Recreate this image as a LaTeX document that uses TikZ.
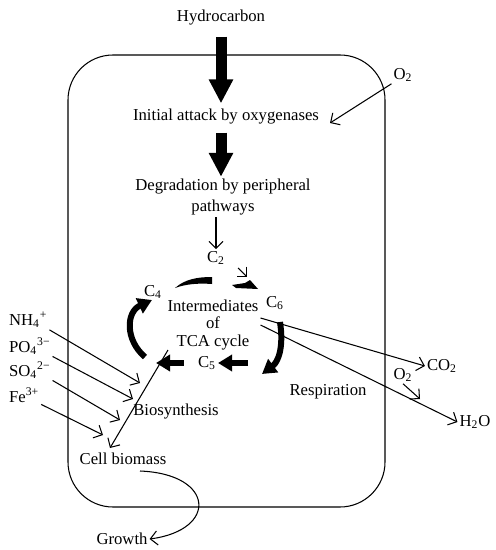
\documentclass[tikz,border=0pt]{standalone}
\usepackage{fontspec}
\setmainfont{Liberation Serif}
\usetikzlibrary{arrows.meta,positioning}

\tikzset{
  lbl/.style={inner sep=1pt, font=\fontsize{9.5}{12}\selectfont},
  fat/.style={line width=0.22cm, -{Triangle[width=0.46cm,length=0.48cm]}},
  cyc/.style={line width=0.12cm, -{Triangle[width=0.32cm,length=0.28cm]}},
  thin/.style={line width=0.6pt, -{Straight Barb[length=4pt,width=8pt]}},
}

\begin{document}
\begin{tikzpicture}[x=0.02cm, y=-0.02cm]
\useasboundingbox (0,0) rectangle (495,550);
% cell
\draw[line width=0.6pt, rounded corners=0.9cm] (68,55) rectangle (385,507);

% main pathway
\node[lbl] (hc) at (221,18) {Hydrocarbon};
\node[lbl] (ia) at (226,117) {Initial attack by oxygenases};
\node[lbl, align=center] (dg) at (223,197) {Degradation by peripheral\\pathways};
\node[lbl] (otwo) at (403,75) {O\textsubscript{2}};
\coordinate (iatip) at (330,123);
\draw[fat, shorten <=0.18cm, shorten >=0.08cm] (hc.south) -- (hc.south |- ia.north);
\draw[fat, shorten <=0.12cm] (hc.south |- ia.south) -- (hc.south |- dg.north);
\draw[thin] (otwo.south west) -- (iatip);

% TCA cycle
\node[lbl] (c2) at (216,258) {C\textsubscript{2}};
\node[lbl] (c4) at (153,292) {C\textsubscript{4}};
\node[lbl] (c6) at (275,303) {C\textsubscript{6}};
\node[lbl] (c5) at (207,363) {C\textsubscript{5}};
\node[lbl, align=center, font=\fontsize{9.5}{10}\selectfont] (inter) at (213,325) {Intermediates\\of\\TCA cycle};
\draw[thin] (c2.north |- dg.south) -- (c2.north);
\fill (175,288) .. controls (185,279) and (198,277) .. (212,277) -- (212,284) .. controls (198,283) and (186,284) .. (175,288) -- cycle;
\fill (232,285) -- (245,283) -- (250,280) -- (258,289) -- (236,288) -- cycle;
\draw[thin] (238,268) -- (247,277);
\draw[cyc] (280,322) .. controls (284,348) and (278,362) .. (262,374);
\draw[cyc] (248,363) -- (c5.east);
\draw[cyc] (c5.west) ++(-12,0) -- (156,363);
\draw[cyc] (145,357) .. controls (125,340) and (126,312) .. (152,300);

% respiration
\node[lbl] (co2) at (442,366) {CO\textsubscript{2}};
\node[lbl] (h2o) at (475,422) {H\textsubscript{2}O};
\node[lbl] (o2b) at (403,375) {O\textsubscript{2}};
\node[lbl] (resp) at (328,392) {Respiration};
\coordinate (o2tip) at (420,399);
\draw[thin] ([yshift=0.14cm]inter.east) -- (co2.west);
\draw[thin] (inter.east) -- (h2o.west);
\draw[thin] (o2b.south) -- (o2tip);

% biosynthesis
\node[lbl, anchor=west] (nh) at (7,320) {NH\textsubscript{4}\textsuperscript{+}};
\node[lbl, anchor=west] (po) at (7,346) {PO\textsubscript{4}\textsuperscript{3−}};
\node[lbl, anchor=west] (so) at (7,370) {SO\textsubscript{4}\textsuperscript{2−}};
\node[lbl, anchor=west] (fe) at (7,395) {Fe\textsuperscript{3+}};
\node[lbl] (bio) at (176,412) {Biosynthesis};
\node[lbl] (cb) at (123,459) {Cell biomass};
\node[lbl] (gr) at (122,539) {Growth};
\coordinate (b1) at (140,383);
\coordinate (b2) at (133,399);
\coordinate (b3) at (120,420);
\coordinate (b4) at (103,435);
\coordinate (c5out) at (168,350);
\coordinate (cbtip) at (110,448);
\coordinate (cbout) at (140,471);
\draw[thin] (nh.south east) -- (b1);
\draw[thin] (po.south east) -- (b2);
\draw[thin] (so.south east) -- (b3);
\draw[thin] (fe.south east) -- (b4);
\draw[thin] (c5out) -- (cbtip);
\draw[thin] (cbout) .. controls (215,474) and (218,530) .. (gr.east);
\end{tikzpicture}
\end{document}
